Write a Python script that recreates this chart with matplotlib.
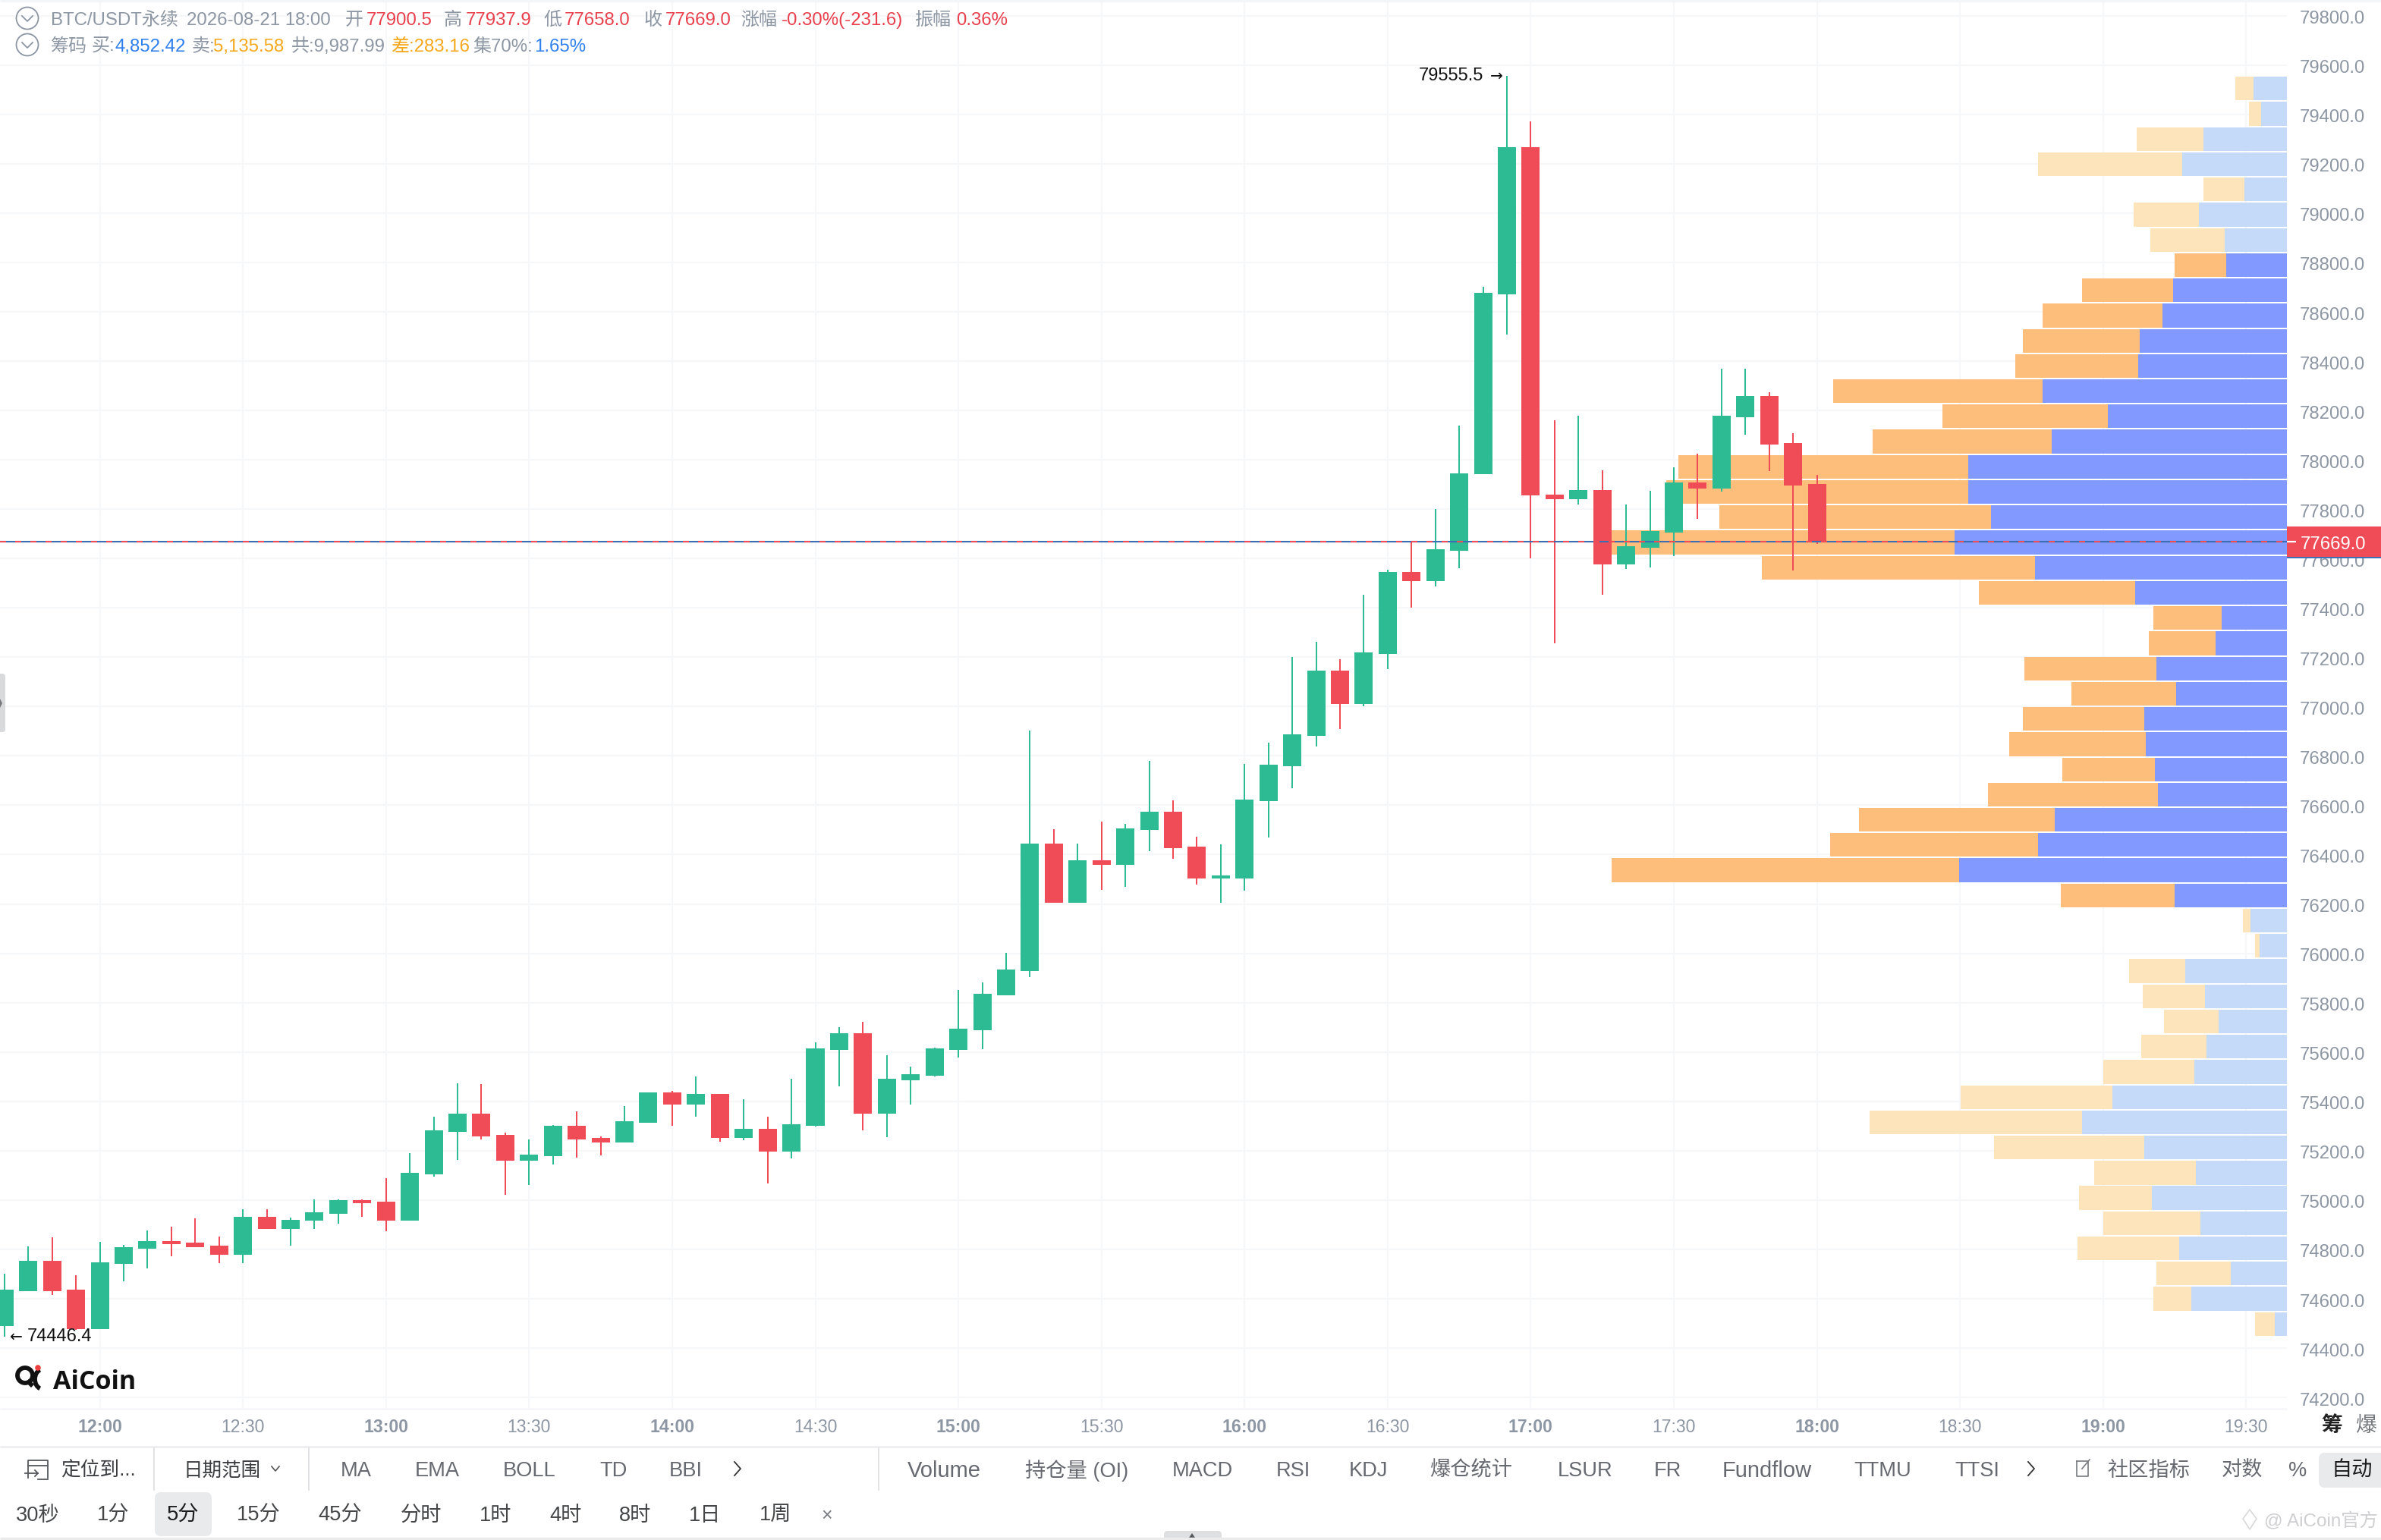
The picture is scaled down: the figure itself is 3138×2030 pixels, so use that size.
import matplotlib
matplotlib.use("Agg")
import matplotlib.pyplot as plt
from matplotlib.patches import Rectangle, FancyBboxPatch, Circle, Arc, Polygon
from matplotlib.transforms import ScaledTranslation

plt.rcParams['font.family'] = ['Liberation Sans', 'Noto Sans CJK SC', 'DejaVu Sans']
plt.rcParams['lines.scale_dashes'] = False

# ---------- data ----------
candle_index = list(range(-4, 73))  # 5-minute candles counted from 12:00
opens = [74490, 74632, 74754, 74637, 74478, 74742, 74804, 74833, 74827, 74815, 74779, 74932, 74884, 74915, 74945, 75000,
         74993, 74915, 75105, 75277, 75350, 75264, 75160, 75179, 75301, 75252, 75234, 75313, 75436, 75387, 75430, 75252,
         75289, 75197, 75301, 75608, 75676, 75350, 75485, 75504, 75608, 75688, 75830, 75928, 76444, 76204, 76377, 76358,
         76499, 76573, 76432, 76303, 76303, 76617, 76759, 76881, 77146, 77010, 77214, 77545, 77509, 77632, 77941, 78670,
         79266, 77859, 77840, 77877, 77575, 77643, 77706, 77908, 77883, 78173, 78258, 78068, 77900.5]
highs = [74701, 74811, 74849, 74695, 74829, 74819, 74877, 74892, 74926, 74852, 74964, 74964, 74930, 75002, 75003, 75003,
         75088, 75190, 75337, 75473, 75470, 75272, 75247, 75304, 75359, 75257, 75381, 75436, 75441, 75500, 75430, 75409,
         75339, 75490, 75639, 75700, 75722, 75586, 75541, 75619, 75851, 75882, 76001, 76903, 76502, 76444, 76534, 76525,
         76781, 76620, 76472, 76443, 76767, 76855, 77201, 77262, 77192, 77452, 77553, 77666, 77800, 78138, 78702, 79555.5,
         79373, 78159, 78178, 77957, 77818, 77875, 77969, 78026, 78368, 78368, 78273, 78107, 77937.9]
lows = [74446.4, 74631, 74616, 74475, 74478, 74671, 74724, 74772, 74810, 74745, 74745, 74884, 74816, 74884, 74904, 74933,
        74872, 74915, 75096, 75163, 75244, 75022, 75061, 75144, 75172, 75182, 75234, 75313, 75302, 75339, 75236, 75242,
        75068, 75168, 75298, 75460, 75282, 75254, 75387, 75500, 75577, 75611, 75830, 75902, 76204, 76204, 76258, 76270,
        76414, 76383, 76278, 76204, 76254, 76468, 76670, 76837, 76908, 77002, 77152, 77401, 77488, 77561, 77941, 78507,
        77600, 77257, 77820, 77453, 77558, 77564, 77611, 77760, 77872, 78102, 77953, 77552, 77658]
closes = [74637, 74754, 74632, 74478, 74747, 74809, 74833, 74822, 74810, 74779, 74932, 74884, 74920, 74950, 75000, 74988,
          74915, 75110, 75282, 75350, 75259, 75160, 75184, 75301, 75247, 75234, 75319, 75436, 75387, 75430, 75252, 75289,
          75197, 75306, 75614, 75676, 75350, 75492, 75510, 75614, 75695, 75836, 75934, 76444, 76204, 76377, 76358, 76506,
          76573, 76427, 76303, 76315, 76623, 76764, 76888, 77146, 77010, 77219, 77545, 77509, 77638, 77946, 78677, 79266,
          77855, 77840, 77877, 77575, 77649, 77712, 77908, 77883, 78179, 78258, 78062, 77895, 77669]
last_price = 77669.0
profile_high = 79555.5
profile_low = 74446.4
profile_buy = [23.8, 18.4, 59.5, 74.5, 30.3, 62.7, 44.3, 43.3, 81.1, 88.7, 105.1, 106.0, 174.3, 127.8, 167.8, 227.5, 227.5,
               211.1, 237.3, 179.8, 108.2, 46.6, 50.8, 93.2, 79.0, 101.8, 100.8, 94.1, 92.1, 165.8, 177.7, 233.9, 80.3,
               26.0, 19.4, 72.5, 58.5, 48.8, 57.4, 65.9, 124.5, 146.3, 101.8, 64.8, 96.4, 61.8, 76.8, 40.1, 68.1, 8.7]
profile_sell = [13.0, 8.6, 47.6, 103.1, 29.2, 46.7, 53.2, 36.8, 65.1, 85.6, 83.3, 87.8, 149.6, 118.1, 128.0, 206.9, 215.6,
                193.9, 252.4, 195.0, 111.9, 48.8, 47.9, 94.1, 74.9, 86.7, 97.3, 66.2, 121.1, 139.8, 148.4, 248.4, 81.0,
                5.4, 3.3, 40.2, 44.4, 39.0, 46.6, 65.0, 108.3, 151.7, 107.3, 72.7, 52.0, 69.2, 72.7, 53.1, 27.2, 13.9]
value_area_rows = list(range(7, 33))
price_ticks = list(range(74200, 80000, 200))
time_ticks = list(range(0, 96, 6))
time_labels = ['12:00', '12:30', '13:00', '13:30', '14:00', '14:30', '15:00', '15:30',
               '16:00', '16:30', '17:00', '17:30', '18:00', '18:30', '19:00', '19:30']

# ---------- colours ----------
GREEN, RED = '#2DBB93', '#F04C58'
ORANGE, BLUE = '#FEBE7B', '#8299FF'
PALE_ORANGE, PALE_BLUE = '#FDE4BA', '#C5DAF8'
GRID = '#F6F7F9'
AXIS_TEXT = '#8D96A3'
BAR_TEXT = '#666A70'
TXT_RED, TXT_BLUE, TXT_ORANGE = '#E8404D', '#2F80ED', '#F6A81C'

W, H = 3138, 2030
PLOT_R, PLOT_B = 3014, 1857
fig = plt.figure(figsize=(W / 100, H / 100), dpi=100, facecolor='white')
rect = [0, 1 - PLOT_B / H, PLOT_R / W, PLOT_B / H]

PX_PER_CANDLE = 31.43
X0_PX = 131.6
PX_PER_PRICE = 0.32525
Y_74400 = 1777
xlim = ((0 - X0_PX) / PX_PER_CANDLE, (PLOT_R - X0_PX) / PX_PER_CANDLE)
ylim = (74400 + (Y_74400 - PLOT_B) / PX_PER_PRICE, 74400 + Y_74400 / PX_PER_PRICE)

# back axes: grid and tick labels
ax = fig.add_axes(rect, zorder=1)
ax.set_xlim(xlim)
ax.set_ylim(ylim)
for s in ax.spines.values():
    s.set_visible(False)
ax.set_xticks(time_ticks)
ax.set_xticklabels(time_labels)
for lab, t_ in zip(ax.get_xticklabels(), time_labels):
    lab.set_fontweight('bold' if t_.endswith(':00') else 'normal')
ax.set_yticks(price_ticks)
ax.set_yticklabels([f'{p:.1f}' for p in price_ticks])
ax.yaxis.tick_right()
ax.tick_params(axis='x', length=0, pad=9.5, labelsize=16.6, labelcolor=AXIS_TEXT)
ax.tick_params(axis='y', length=0, pad=12, labelsize=17.2, labelcolor=AXIS_TEXT)
ax.grid(True, color=GRID, linewidth=1.6)
ax.set_axisbelow(True)
for lab in ax.get_yticklabels():
    lab.set_transform(lab.get_transform() + ScaledTranslation(0, -1.5 / 72, fig.dpi_scale_trans))

# chip distribution
VOL_PER_PX = 0.5417
axp = fig.add_axes(rect, zorder=2)
axp.patch.set_visible(False)
axp.axis('off')
axp.set_xlim(PLOT_R * VOL_PER_PX, 0)
axp.set_ylim(ylim)
bin_h = (profile_high - profile_low) / len(profile_buy)
for r, (b, s) in enumerate(zip(profile_buy, profile_sell)):
    yc = profile_high - (r + 0.5) * bin_h
    strong = r in value_area_rows
    axp.barh(yc, b, height=bin_h * 0.94, color=BLUE if strong else PALE_BLUE, linewidth=0)
    axp.barh(yc, s, left=b, height=bin_h * 0.94, color=ORANGE if strong else PALE_ORANGE, linewidth=0)

# candles
axc = fig.add_axes(rect, zorder=3)
axc.patch.set_visible(False)
axc.axis('off')
axc.set_xlim(xlim)
axc.set_ylim(ylim)
for i, o, h, l, c in zip(candle_index, opens, highs, lows, closes):
    col = GREEN if c >= o else RED
    axc.vlines(i, l, h, color=col, linewidth=1.44, zorder=3)
    axc.bar(i, abs(c - o), bottom=min(o, c), width=0.764, color=col, linewidth=0, zorder=4)

# last-price line: solid blue with red dashes
axc.plot(xlim, [last_price] * 2, color='#3B6DB5', linewidth=1.5, zorder=5, solid_capstyle='butt')
axc.plot(xlim, [last_price] * 2, color=RED, linewidth=1.5, zorder=6, dashes=(5.76, 8.64))

# extreme labels
imax = highs.index(max(highs))
imin = lows.index(min(lows))
hi_xy = (candle_index[imax], max(highs))
lo_xy = (candle_index[imin], min(lows))
axc.annotate(f'{max(highs):.1f}', xy=hi_xy, xytext=(-22.3, 0), textcoords='offset points',
             ha='right', va='center', fontsize=17, color='#111111', zorder=7)
axc.annotate('→', xy=hi_xy, xytext=(-3.6, 0), textcoords='offset points', family='DejaVu Sans',
             ha='right', va='center', fontsize=14.5, color='#111111', zorder=7)
axc.annotate('←', xy=lo_xy, xytext=(5, 0), textcoords='offset points', family='DejaVu Sans',
             ha='left', va='center', fontsize=14.5, color='#111111', zorder=7)
axc.annotate(f'{min(lows):.1f}', xy=lo_xy, xytext=(21.6, 0), textcoords='offset points',
             ha='left', va='center', fontsize=17, color='#111111', zorder=7)

# ---------- page furniture, in pixel coordinates ----------
ui = fig.add_axes([0, 0, 1, 1], zorder=10)
ui.patch.set_visible(False)
ui.axis('off')
ui.set_xlim(0, W)
ui.set_ylim(H, 0)


def t(x, y, s, color=BAR_TEXT, size=17.3, ha='left', **kw):
    ui.text(x, y, s, color=color, fontsize=size, ha=ha, va='center_baseline', **kw)


def hline(y, color='#EFEFF1', lw=1.5, x0=0, x1=W):
    ui.plot([x0, x1], [y, y], color=color, linewidth=lw, solid_capstyle='butt')


def vline(x, y0, y1, color='#DDDEE0', lw=1.2):
    ui.plot([x, x], [y0, y1], color=color, linewidth=lw, solid_capstyle='butt')


hline(1, '#F4F5F6', 2.2)
hline(1907, '#EFEFF1', 2.2)
hline(2028, '#EBEBEB', 2.5)
hline(PLOT_B, '#F6F7F9', 1.8, 0, PLOT_R)

# header
for yc in (24, 59):
    ui.add_patch(Circle((36, yc), 14.5, fill=False, edgecolor='#8D96A3', linewidth=1.3))
    ui.plot([29, 36, 43], [yc - 3, yc + 4, yc - 3], color='#8D96A3', linewidth=1.3)
GR = '#8D96A3'
row1 = [(67, 'BTC/USDT永续', GR), (245.5, '2026-08-21 18:00', GR), (455, '开', GR), (483, '77900.5', TXT_RED),
        (585, '高', GR), (614, '77937.9', TXT_RED), (716, '低', GR), (744, '77658.0', TXT_RED), (848, '收', GR),
        (877, '77669.0', TXT_RED), (976, '涨幅', GR), (1029.5, '-0.30%(-231.6)', TXT_RED), (1205, '振幅', GR),
        (1260, '0.36%', TXT_RED)]
row2 = [(67, '筹码', GR), (120.5, '买:', GR), (152, '4,852.42', TXT_BLUE), (252.7, '卖:', GR), (281, '5,135.58', TXT_ORANGE),
        (384, '共:9,987.99', GR), (515, '差:283.16', TXT_ORANGE), (623, '集70%:', GR), (704, '1.65%', TXT_BLUE)]
for x, s, c in row1:
    t(x, 24, s, c)
for x, s, c in row2:
    t(x, 59, s, c)

# left tab
ui.add_patch(FancyBboxPatch((-6, 888), 13, 77, boxstyle='round,pad=0,rounding_size=4', facecolor='#D9DADC', linewidth=0))
ui.add_patch(Polygon([(0, 921), (3, 927), (0, 933)], closed=True, facecolor='#77797C', linewidth=0))

# logo
ui.add_patch(Circle((33, 1813), 10, fill=False, edgecolor='#111111', linewidth=4.2))
ui.plot([36, 43], [1820, 1827], color='#111111', linewidth=4.2, solid_capstyle='butt')
ui.add_patch(Arc((56, 1818), 20, 26, theta1=105, theta2=255, edgecolor='#111111', linewidth=4.2))
ui.add_patch(Circle((50, 1803), 3.8, facecolor='#EE3F3F', linewidth=0))
ui.text(70, 1818, 'AiCoin', color='#111111', fontsize=24.5, fontweight='bold', family='Open Sans', ha='left', va='center_baseline')

# price tag
ui.add_patch(Rectangle((PLOT_R, 694), W - PLOT_R, 40, facecolor=RED, linewidth=0))
hline(734.5, '#3B6DB5', 1.4, PLOT_R, W)
hline(714, 'white', 1.6, PLOT_R, PLOT_R + 12)
t(3032, 715, f'{last_price:.1f}', 'white', 17.2)

# panel switches
ui.text(3073, 1877, '筹', color='#222222', fontsize=20, ha='center', va='center_baseline', fontweight='bold')
ui.text(3118, 1877, '爆', color='#777A80', fontsize=20, ha='center', va='center_baseline')

# toolbar
vline(203, 1908, 1965)
vline(407, 1908, 1965)
vline(1158, 1908, 1965)
Y1, Y2 = 1936, 1995
ui.add_patch(FancyBboxPatch((204, 1967), 75, 58, boxstyle='round,pad=0,rounding_size=8', facecolor='#E9EAEC', linewidth=0))
ui.add_patch(FancyBboxPatch((3056, 1915), 100, 46, boxstyle='round,pad=0,rounding_size=8', facecolor='#E9EAEC', linewidth=0))
# icon beside "locate"
ui.plot([37, 37, 63, 63], [1948, 1925, 1925, 1948], color='#55585C', linewidth=1.3)
ui.plot([37, 63], [1932, 1932], color='#55585C', linewidth=1.3)
ui.plot([33, 50], [1942, 1942], color='#55585C', linewidth=1.3)
ui.plot([46, 50, 46], [1938, 1942, 1946], color='#55585C', linewidth=1.3)
ui.plot([50, 63], [1950, 1950], color='#55585C', linewidth=1.3)

for x, s, sz in [(80, '定位到...', 18.5), (241, '日期范围', 18.4), (449, 'MA', 19.6), (547, 'EMA', 19.6), (663, 'BOLL', 19.6),
                 (790, 'TD', 19.6), (882, 'BBI', 19.6), (1196, 'Volume', 21), (1351, '持仓量 (OI)', 19.6),
                 (1545, 'MACD', 19.6), (1682, 'RSI', 19.6), (1778, 'KDJ', 19.6), (1884, '爆仓统计', 19.6),
                 (2053, 'LSUR', 19.6), (2180, 'FR', 19.6), (2270, 'Fundflow', 21), (2443, 'TTMU', 19.6),
                 (2576, 'TTSI', 19.6), (2777, '社区指标', 19.6), (2928, '对数', 19.6), (3016, '%', 19.6)]:
    dark = '#3A3C40' if s in ('定位到...', '日期范围') else BAR_TEXT
    t(x, Y1, s, dark, sz)
t(3073, Y1, '自动', '#1C1C1E', 19.6)
for x0 in (972, 2677):
    ui.plot([x0 - 4, x0 + 4, x0 - 4], [Y1 - 9, Y1, Y1 + 9], color='#333333', linewidth=1.3)
ui.plot([358, 363, 368], [Y1 - 3, Y1 + 3, Y1 - 3], color='#555555', linewidth=1.2)
ui.plot([2737, 2737, 2752, 2752, 2737], [1926, 1946, 1946, 1926, 1926], color='#777A80', linewidth=1.2)
ui.plot([2744, 2754], [1936, 1924], color='#777A80', linewidth=1.2)

for x, s in [(21, '30秒'), (128, '1分'), (312, '15分'), (419, '45分'), (528, '分时'), (632, '1时'), (724, '4时'),
             (816, '8时'), (908, '1日'), (1001, '1周')]:
    t(x, Y2, s, '#444648', 19.6)
t(220, Y2, '5分', '#1C1C1E', 19.6)
t(1090, Y2, '×', '#777A80', 18, ha='center')

# watermark and bottom tab
t(2984, 2003, '@ AiCoin官方', '#CFCFD2', 17.5)
ui.add_patch(Polygon([(2965, 1990), (2974, 2002), (2965, 2016), (2956, 2002)], closed=True, fill=False, edgecolor='#D8D8DA', linewidth=1.2))
ui.add_patch(FancyBboxPatch((1534, 2018), 76, 20, boxstyle='round,pad=0,rounding_size=5', facecolor='#DEDFE1', linewidth=0))
ui.add_patch(Polygon([(1565, 2030), (1571, 2021), (1577, 2030)], closed=True, facecolor='#55585C', linewidth=0))

fig.savefig('out.png', dpi=100)
